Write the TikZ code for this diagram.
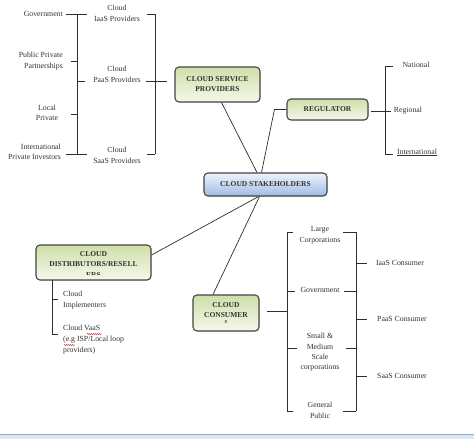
\documentclass[tikz,border=0pt]{standalone}
\usepackage{fontspec}
\setmainfont{Liberation Serif}
\usetikzlibrary{shadows,decorations.pathmorphing}
\definecolor{txt}{HTML}{333333}
\definecolor{ln}{HTML}{2E2E2E}
\definecolor{bord}{HTML}{454545}
\definecolor{gtop}{HTML}{CFDFAA}
\definecolor{gbot}{HTML}{F4F8EA}
\definecolor{btop}{HTML}{EEF3FA}
\definecolor{bbot}{HTML}{9FBCE4}
\tikzset{
  lbl/.style={text=txt,font=\fontsize{7.8}{10.5}\selectfont,inner sep=0pt,align=center},
  boxtext/.style={text=txt,font=\bfseries\fontsize{7.5}{10}\selectfont,align=center,inner sep=0pt},
  box/.style={boxtext,draw=bord,line width=1.1pt,rounded corners=4pt,
    drop shadow={opacity=0.18,shadow xshift=0.8pt,shadow yshift=-0.8pt}},
  gbox/.style={box,top color=gtop,bottom color=gbot},
  bbox/.style={box,top color=btop,bottom color=bbot},
  wire/.style={draw=ln,line width=0.7pt},
  brk/.style={draw=ln,line width=0.9pt},
  squig/.style={draw=red!80!black,line width=0.4pt,decorate,decoration={snake,amplitude=0.5pt,segment length=2pt}}
}
\begin{document}
\begin{tikzpicture}[x=1pt,y=-1pt]
\useasboundingbox (0,0) rectangle (474,439);
\fill[white] (0,0) rectangle (474,439);
% bottom band
\fill[fill={rgb,255:red,221;green,232;blue,246}] (0,434) rectangle (474,439);
\draw[draw={rgb,255:red,150;green,172;blue,202},line width=0.8pt] (0,434) -- (474,434);

% main boxes
\node[gbox,minimum width=85pt,minimum height=35pt] (csp) at (217.5,84.5) {CLOUD SERVICE\\PROVIDERS};
\node[gbox,minimum width=81pt,minimum height=21pt] (reg) at (327.5,109.5) {REGULATOR};
\node[bbox,minimum width=123pt,minimum height=23pt] (stk) at (265.5,184.5) {CLOUD STAKEHOLDERS};
\node[gbox,minimum width=115pt,minimum height=35pt] (dist) at (93.5,262.5) {};
\node[boxtext] (distt) at (93.5,259) {CLOUD\\DISTRIBUTORS/RESELL};
\begin{scope}
\clip ([xshift=2pt,yshift=6pt]dist.south west) rectangle ([xshift=-2pt,yshift=-8pt]dist.east);
\node[boxtext] (diste) at (93.5,275.5) {ERS};
\end{scope}
\node[gbox,minimum width=66pt,minimum height=36pt] (cons) at (226,313) {};
\node[boxtext] (const) at (226,310) {CLOUD\\CONSUMER};
\node[lbl,font=\fontsize{6.5}{7}\selectfont] (conse) at (226,322) {e};

% connectors to stakeholders
\draw[wire] ([xshift=4pt]csp.south) -- ([xshift=-8.5pt]stk.north);
\draw[wire] (reg.west) -- ++(-12pt,0) -- ([xshift=-4pt]stk.north);
\draw[wire] ([yshift=7.5pt]dist.east) -- ([xshift=-7pt]stk.south);
\draw[wire] ([xshift=-13pt]cons.north) -- ([xshift=-6pt]stk.south);

% ---- service provider tree
\node[lbl,anchor=east] (gov) at (63,14) {Government};
\node[lbl,anchor=east,align=right] (ppp) at (63,61) {Public Private\\Partnerships};
\node[lbl] (lp) at (47,113) {Local\\Private};
\node[lbl,anchor=east,align=right] (ipi) at (61,152) {International\\Private Investors};
\node[lbl] (iaasp) at (117,13.5) {Cloud\\IaaS Providers};
\node[lbl] (paasp) at (117,74.5) {Cloud\\PaaS Providers};
\node[lbl] (saasp) at (117,155.5) {Cloud\\SaaS Providers};
\draw[brk] (77,14) -- (77,154);
\draw[brk] (66,14) -- (87,14);
\draw[brk] (71,61) -- (77,61);
\draw[brk] (77,81) -- (85,81);
\draw[brk] (71,114) -- (77,114);
\draw[brk] (66,154) -- (87,154);
\draw[brk] (155,14) -- (155,154);
\draw[brk] (147,14) -- (155,14);
\draw[brk] (147,154) -- (155,154);
\draw[brk] (146,81) -- (167,81);

% ---- regulator tree
\draw[brk] (385,66) -- (385,154);
\draw[brk] (385,66) -- (393,66);
\draw[brk] (385,154) -- (393,154);
\draw[brk] (371,111) -- (391,111);
\node[lbl] (nat) at (416,65) {National};
\node[lbl] (regn) at (408,111) {Regional};
\node[lbl] (intl) at (417,152.5) {\underline{International}};

% ---- distributors tree
\draw[brk] (52,280) -- (52,334);
\draw[brk] (52,299) -- (58,299);
\draw[brk] (52,334) -- (58,334);
\node[lbl,anchor=west,align=left] (impl) at (63,300) {Cloud\\Implementers};
\node[lbl,anchor=west,align=left,font=\fontsize{7.8}{11}\selectfont] (vaas) at (63,340) {Cloud VaaS\\(e.g ISP/Local loop\\providers)};
\draw[squig] (87,334) -- (102,334);
\draw[squig] (64,345) -- (75,345);

% ---- consumer tree
\draw[brk] (267,311) -- (287,311);
\draw[brk] (287,232) -- (287,411);
\draw[brk] (287,232) -- (293,232);
\draw[brk] (287,291) -- (295,291);
\draw[brk] (287,348) -- (297,348);
\draw[brk] (287,411) -- (293,411);
\node[lbl] (lc) at (320,235.5) {Large\\Corporations};
\node[lbl] (govc) at (320,290) {Government};
\node[lbl,font=\fontsize{7.8}{10.3}\selectfont] (sme) at (320,352.5) {Small \&\\Medium\\Scale\\corporations};
\node[lbl] (gp) at (320,410.5) {General\\Public};
\draw[brk] (356,232) -- (356,411);
\draw[brk] (343,232) -- (356,232);
\draw[brk] (344,291) -- (356,291);
\draw[brk] (346,348) -- (356,348);
\draw[brk] (343,411) -- (356,411);
\draw[brk] (356,263) -- (367,263);
\draw[brk] (356,319) -- (367,319);
\draw[brk] (356,376) -- (367,376);
\node[lbl] (iaasc) at (400,263) {IaaS Consumer};
\node[lbl] (paasc) at (402,319) {PaaS Consumer};
\node[lbl] (saasc) at (402,375.5) {SaaS Consumer};
\end{tikzpicture}
\end{document}
